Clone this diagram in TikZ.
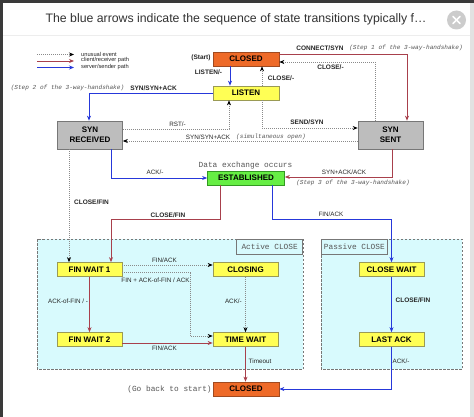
\documentclass[tikz,border=0pt]{standalone}
\usepackage{fontspec}
\setmainfont{Liberation Sans}
\newfontfamily\monof{Liberation Mono}
\usetikzlibrary{arrows.meta}
\definecolor{redpath}{HTML}{A8404C}
\definecolor{bluepath}{HTML}{2638DA}
\definecolor{dotgray}{HTML}{8A8A8A}
\definecolor{yelfill}{HTML}{FFFF55}
\definecolor{yeldraw}{HTML}{9A9A55}
\definecolor{orfill}{HTML}{EE6A28}
\definecolor{ordraw}{HTML}{A04A20}
\definecolor{grfill}{HTML}{BDBDBD}
\definecolor{grdraw}{HTML}{777777}
\definecolor{gnfill}{HTML}{66EE44}
\definecolor{gndraw}{HTML}{339922}
\definecolor{cyfill}{HTML}{D8FAFD}
\definecolor{monogray}{HTML}{555555}
\definecolor{btngray}{HTML}{CCCCCC}
\definecolor{framedark}{HTML}{3A3A3A}
\definecolor{frameright}{HTML}{E2E2E2}
\definecolor{sepline}{HTML}{EDEDED}
\definecolor{titletext}{HTML}{333333}
\tikzset{
  statebox/.style={draw, line width=0.7pt, inner sep=0pt, minimum width=65pt, minimum height=14pt,
    font=\fontsize{8}{9}\selectfont\bfseries, text=black, align=center},
  yelbox/.style={statebox, fill=yelfill, draw=yeldraw},
  orbox/.style={statebox, fill=orfill, draw=ordraw},
  grbox/.style={statebox, fill=grfill, draw=grdraw, minimum height=28pt},
  gnbox/.style={statebox, fill=gnfill, draw=gndraw, minimum width=77pt},
  tip/.style={-{Stealth[length=5pt,width=4pt]}},
  redarr/.style={tip, draw=redpath, line width=0.9pt},
  bluarr/.style={tip, draw=bluepath, line width=0.9pt},
  dotarr/.style={-{Stealth[length=5pt,width=4pt,black]}, draw=dotgray, line width=0.6pt, dash pattern=on 0.7pt off 1.3pt},
  lbl/.style={inner sep=0pt, font=\fontsize{6.3}{7}\selectfont, text=black!85},
  blbl/.style={inner sep=0pt, font=\fontsize{6.5}{7}\selectfont\bfseries, text=black!85},
  mlbl/.style={inner sep=0pt, font=\monof\itshape\fontsize{6.1}{7}\selectfont, text=monogray},
  mtxt/.style={inner sep=0pt, font=\monof\fontsize{7.8}{9}\selectfont, text=monogray},
  region/.style={fill=cyfill, draw=grdraw, line width=0.7pt, dash pattern=on 2.5pt off 1.5pt},
  legtxt/.style={inner sep=0pt, anchor=west, font=\fontsize{5.7}{6}\selectfont, text=black!85},
}
\begin{document}
\begin{tikzpicture}[x=1pt,y=-1pt]
\useasboundingbox (0,0) rectangle (474,417);
\fill[white] (0,0) rectangle (474,417);
% screenshot frame
\fill[framedark] (0,0) rectangle (474,3);
\fill[framedark] (0,0) rectangle (3,417);
\fill[frameright] (470,3) rectangle (474,417);
\draw[sepline, line width=0.6pt] (3,35) -- (470,35);
% title
\node[inner sep=0pt, font=\fontsize{12.3}{14}\selectfont, text=titletext] (title) at (236,19) {The blue arrows indicate the sequence of state transitions typically f…};
\coordinate (btn) at (456.5,20);
\path[fill=btngray, draw=none] (btn) circle[radius=9.5pt];
\draw[white, line width=1.6pt, line cap=round] ([xshift=-3.6pt,yshift=3.6pt]btn) -- ([xshift=3.6pt,yshift=-3.6pt]btn);
\draw[white, line width=1.6pt, line cap=round] ([xshift=-3.6pt,yshift=-3.6pt]btn) -- ([xshift=3.6pt,yshift=3.6pt]btn);

% legend
\coordinate (lg1a) at (37,54.5); \coordinate (lg1b) at (74,54.5);
\coordinate (lg2a) at (37,61);   \coordinate (lg2b) at (74,61);
\coordinate (lg3a) at (37,67.5); \coordinate (lg3b) at (74,67.5);
\draw[dotarr] (lg1a) -- (lg1b);
\draw[redarr] (lg2a) -- (lg2b);
\draw[bluarr] (lg3a) -- (lg3b);
\node[legtxt] (lgt1) at (81,54) {unusual event};
\node[legtxt] (lgt2) at (81,60.5) {client/receiver path};
\node[legtxt] (lgt3) at (81,67.5) {server/sender path};

% regions
\draw[region] (37,239) rectangle (303,369);
\draw[region] (321,239) rectangle (462,369);
\node[draw=grdraw, fill=cyfill, line width=0.7pt, minimum width=66pt, minimum height=14.5pt, inner sep=0pt, mtxt, anchor=north east] (actlbl) at (303,239) {Active CLOSE};
\node[draw=grdraw, fill=cyfill, line width=0.7pt, minimum width=66pt, minimum height=14.5pt, inner sep=0pt, mtxt, anchor=north west] (paslbl) at (321,239) {Passive CLOSE};

% states
\node[orbox, minimum width=66pt] (closed1) at (246,59) {CLOSED};
\node[yelbox, minimum width=66pt] (listen) at (246,93) {LISTEN};
\node[grbox] (synrcvd) at (90,135) {SYN\\[1pt]RECEIVED};
\node[grbox] (synsent) at (390.5,135) {SYN\\[1pt]SENT};
\node[gnbox] (estab) at (246,178) {ESTABLISHED};
\node[yelbox] (fw1) at (89.5,269.5) {FIN WAIT 1};
\node[yelbox] (fw2) at (89.5,339.5) {FIN WAIT 2};
\node[yelbox] (closing) at (245.5,269.5) {CLOSING};
\node[yelbox] (timewait) at (245.5,339.5) {TIME WAIT};
\node[yelbox] (closewait) at (391.5,269.5) {CLOSE WAIT};
\node[yelbox] (lastack) at (391.5,339.5) {LAST ACK};
\node[orbox, minimum width=66pt] (closed2) at (246,389) {CLOSED};

\node[blbl] (start) at (201,58) {(Start)};
\node[mtxt] (goback) at (169.5,389) {(Go back to start)};
\node[mtxt] (dataex) at (245.5,165) {Data exchange occurs};

% connectors
\draw[bluarr] ([xshift=-16pt]closed1.south) -- ([xshift=-16pt]listen.north);
\node[blbl] (l1) at (208.5,72.5) {LISTEN/-};

\draw[dotarr] ([xshift=16pt]listen.north) -- ([xshift=16pt]closed1.south);
\node[blbl] (l2) at (281,78) {CLOSE/-};

\draw[redarr] ([yshift=5pt]closed1.east) -| ([xshift=16.5pt]synsent.north);
\node[blbl] (l3) at (320,48) {CONNECT/SYN};
\node[mlbl] (l3b) at (406,48) {(Step 1 of the 3-way-handshake)};

\draw[dotarr] ([xshift=-15.5pt]synsent.north) |- ([yshift=-3pt]closed1.east);
\node[blbl] (l4) at (330.5,67) {CLOSE/-};

\draw[bluarr] (listen.west) -| ([xshift=-1pt]synrcvd.north);
\node[blbl] (l5) at (153.5,88) {SYN/SYN+ACK};
\node[mlbl] (l5b) at (67.5,88) {(Step 2 of the 3-way-handshake)};

\draw[dotarr] ([yshift=6pt]synrcvd.east) -| ([xshift=-17pt]listen.south);
\node[lbl] (l6) at (177.5,124) {RST/-};

\draw[dotarr] ([xshift=16pt]listen.south) |- ([yshift=7pt]synsent.west);
\node[blbl] (l7) at (307,122) {SEND/SYN};

\draw[dotarr] ([yshift=-6pt]synsent.west) -- ([yshift=-6pt]synrcvd.east);
\node[lbl] (l8) at (208,137) {SYN/SYN+ACK};
\node[mlbl] (l8b) at (271,137) {(simultaneous open)};

\draw[bluarr] ([xshift=21pt]synrcvd.south) |- (estab.west);
\node[lbl] (l9) at (155,172) {ACK/-};

\draw[redarr] ([xshift=1.5pt]synsent.south) |- ([yshift=1pt]estab.east);
\node[lbl] (l10) at (344,172) {SYN+ACK/ACK};
\node[mlbl] (l10b) at (353,183) {(Step 3 of the 3-way-handshake)};

\draw[dotarr] ([xshift=-21pt]synrcvd.south) -- ([xshift=-20.5pt]fw1.north);
\node[blbl] (l11) at (91.5,202) {CLOSE/FIN};

\draw[redarr] ([xshift=-26pt]estab.south) -- ++(0,34) -| ([xshift=21.5pt]fw1.north);
\node[blbl] (l12) at (168,215) {CLOSE/FIN};

\draw[bluarr] ([xshift=26pt]estab.south) -- ++(0,34) -| (closewait.north);
\node[lbl] (l13) at (331,214) {FIN/ACK};

\draw[dotarr] ([yshift=4.5pt]fw1.east) -- ([yshift=4.5pt]closing.west);
\node[lbl] (l14) at (164.5,260) {FIN/ACK};

\draw[dotarr] ([yshift=-3pt]fw1.east) -- ++(68,0) |- ([yshift=3.5pt]timewait.west);
\node[lbl] (l15) at (155.5,280.5) {FIN + ACK-of-FIN / ACK};

\draw[redarr] (fw1.south) -- (fw2.north);
\node[lbl] (l16) at (68,301) {ACK-of-FIN / -};

\draw[redarr] ([yshift=-3.5pt]fw2.east) -- ([yshift=-3.5pt]timewait.west);
\node[lbl] (l17) at (164.5,348) {FIN/ACK};

\draw[dotarr] (closing.south) -- (timewait.north);
\node[lbl, anchor=east] (l18) at (242,301) {ACK/-};

\draw[redarr] (timewait.south) -- (timewait.south |- closed2.north);
\node[lbl] (l19) at (260,361) {Timeout};

\draw[bluarr] (closewait.south) -- (lastack.north);
\node[blbl] (l20) at (413,300) {CLOSE/FIN};

\draw[bluarr] (lastack.south) |- (closed2.east);
\node[lbl] (l21) at (401,361) {ACK/-};
\end{tikzpicture}
\end{document}
